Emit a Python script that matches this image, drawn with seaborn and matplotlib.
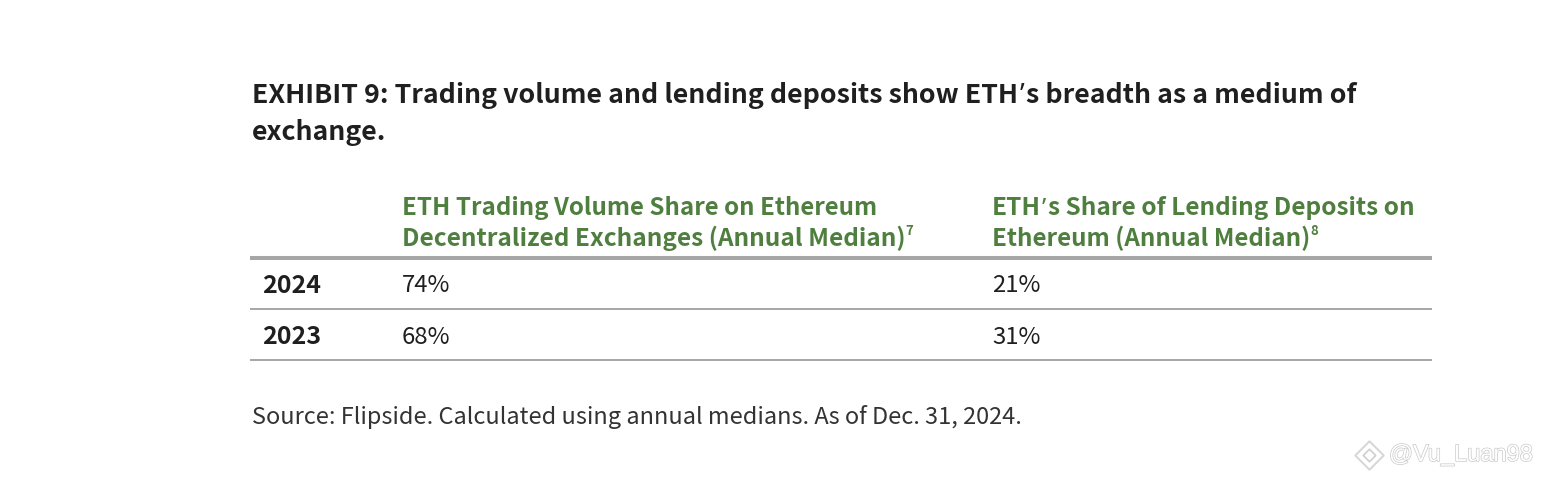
import pandas as pd
import matplotlib.pyplot as plt
import matplotlib.patheffects as pe
import seaborn as sns

# table content
years = ['2024', '2023']
volume_share = [74, 68]
lending_share = [21, 31]
col_headers = [
    ['ETH Trading Volume Share on Ethereum', 'Decentralized Exchanges (Annual Median)'],
    ['ETH’s Share of Lending Deposits on', 'Ethereum (Annual Median)'],
]
footnote_marks = ['7', '8']
title_lines = ['EXHIBIT 9: Trading volume and lending deposits show ETH’s breadth as a medium of',
               'exchange.']
source = 'Source: Flipside. Calculated using annual medians. As of Dec. 31, 2024.'
watermark = '@Vu_Luan98'

W, H = 1542, 480
FONT = ['Noto Sans CJK SC', 'DejaVu Sans']
DARK = '#1f1f1f'
GREEN = '#4f7f3f'
RULE = '#a6a6a8'
HEADER_SIZES = [[17.33, 17.6], [17.6, 17.4]]

sns.set_theme(style='white')
plt.rcParams['font.family'] = FONT

df = pd.DataFrame({'volume': volume_share, 'lending': lending_share}, index=years)
labels = df.map(lambda v: f'{v}%')

fig = plt.figure(figsize=(W / 100, H / 100), dpi=100, facecolor='white')


def px_axes(left, top, right, bottom):
    return fig.add_axes([left / W, 1 - bottom / H, (right - left) / W, (bottom - top) / H])


# value cells: two equal columns starting at the first text column, white fill
ax = px_axes(402, 260.5, 1582, 362.5)
sns.heatmap(df, ax=ax, cmap=['white'], cbar=False, annot=labels, fmt='',
            annot_kws={'fontsize': 17.2, 'color': DARK, 'ha': 'left'})
ax.patch.set_alpha(0)
for t in ax.texts:
    x, y = t.get_position()
    t.set_position((x - 0.5, y))
    t.set_clip_on(False)
ax.set_xticks([])
ax.set_ylabel('')
ax.tick_params(axis='y', length=0, pad=140 * 0.72)
for lab in ax.get_yticklabels():
    lab.set_rotation(0)
    lab.set_ha('left')
    lab.set_fontsize(18)
    lab.set_fontweight('bold')
    lab.set_color(DARK)
sns.despine(ax=ax, left=True, bottom=True)

# overlay in pixel coordinates for rules and free text
ov = fig.add_axes([0, 0, 1, 1], facecolor='none')
ov.set_xlim(0, W)
ov.set_ylim(H, 0)
ov.axis('off')
ov.hlines([258], 250, 1432, color=RULE, lw=2.9)
ov.hlines([309, 360], 250, 1432, color=RULE, lw=1.4)

renderer = fig.canvas.get_renderer()


def put_line(x, y, line, **kw):
    # the CJK font has a full-width apostrophe, so that one sign comes from Noto Sans
    parts = line.split('’')
    for i, part in enumerate(parts):
        t = ov.text(x, y, part, va='baseline', **kw)
        x = t.get_window_extent(renderer).x1
        if i < len(parts) - 1:
            q = ov.text(x + 1, y, '’', va='baseline', family='Noto Sans', **kw)
            x = q.get_window_extent(renderer).x1 + 2
    return x


for x, y, line in zip([252.5, 251.5], [103, 140], title_lines):
    put_line(x, y, line, fontsize=19.27, fontweight='bold', color=DARK)
for x, head, sizes, mark in zip([402, 992], col_headers, HEADER_SIZES, footnote_marks):
    put_line(x, 215, head[0], fontsize=sizes[0], fontweight='bold', color=GREEN)
    end = put_line(x, 246, head[1], fontsize=sizes[1], fontweight='bold', color=GREEN)
    ov.text(end, 235, mark, fontsize=9.5, fontweight='bold', color=GREEN, va='baseline')
ov.text(252, 424, source, fontsize=16.95, color='#333333', va='baseline')

# faint embossed watermark
emboss = [pe.withStroke(linewidth=1.0, foreground='#c9c9c9')]
ov.scatter([1369], [455], marker='D', s=210, facecolor='white', edgecolor='#d6d6d6', lw=1.4)
ov.scatter([1369], [455], marker='D', s=40, facecolor='white', edgecolor='#cfcfcf', lw=1.2)
ov.text(1389, 455, watermark, fontsize=17, family='Liberation Sans', color='white',
        va='center', path_effects=emboss)

fig.savefig('out.png', dpi=100, facecolor='white')
